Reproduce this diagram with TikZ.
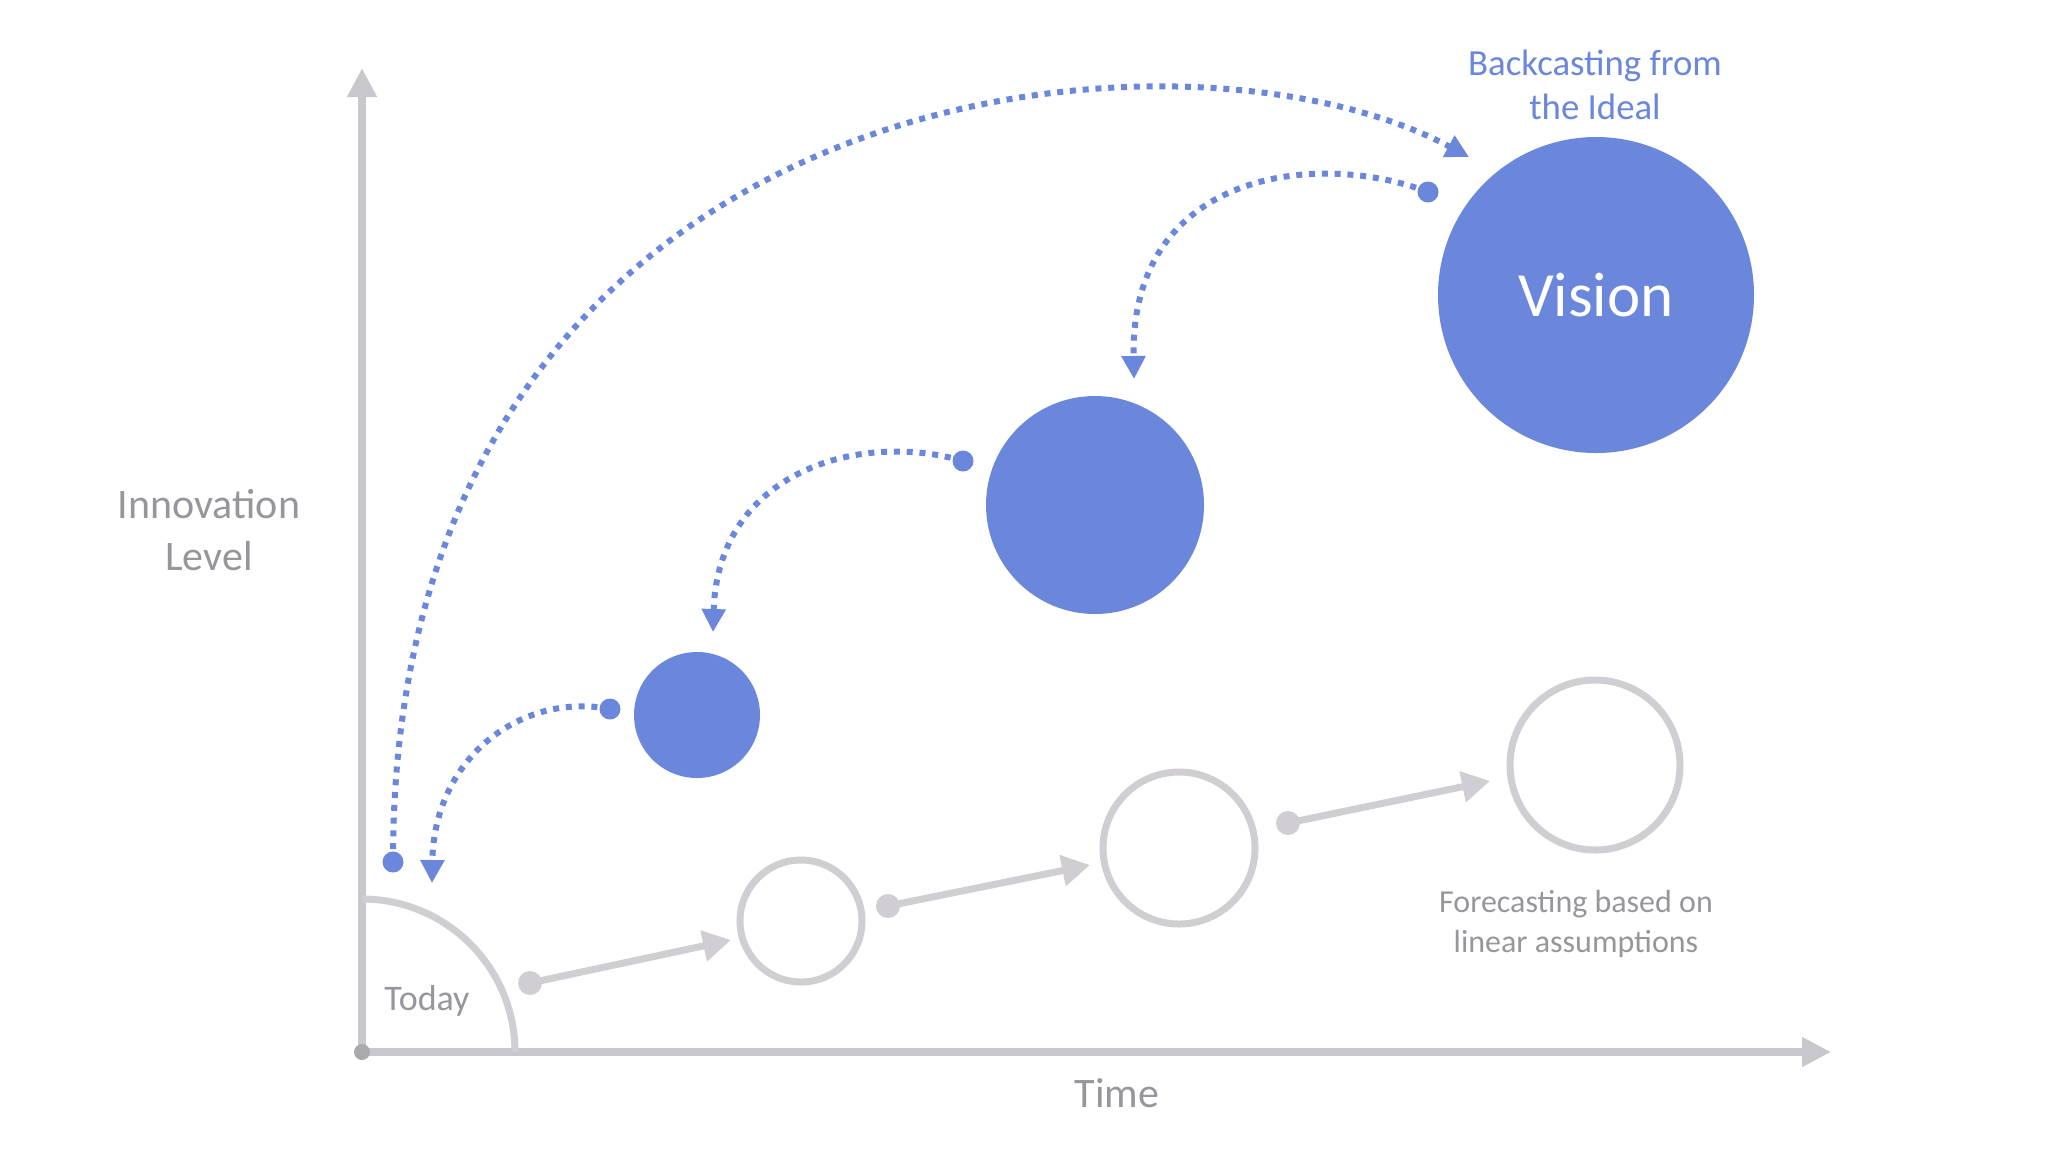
\documentclass[tikz,border=0pt]{standalone}
\usepackage{fontspec}
\setmainfont{Carlito}
\usetikzlibrary{arrows.meta}
\definecolor{vblue}{RGB}{106,135,219}
\definecolor{lgrey}{RGB}{208,206,211}
\definecolor{axgrey}{RGB}{200,200,204}
\definecolor{tgrey}{RGB}{150,150,156}
\definecolor{dgrey}{RGB}{170,170,174}
\begin{document}
\begin{tikzpicture}[x=0.5pt,y=-0.5pt,
  bluecirc/.style={circle,fill=vblue,inner sep=0pt},
  ring/.style={circle,draw=lgrey,line width=3.5pt,inner sep=0pt},
  axisline/.style={draw=axgrey,line width=4pt,-{Triangle[length=14.5pt,width=14pt]}},
  greyarrow/.style={draw=lgrey,line width=3.5pt,-{Triangle[length=14pt,width=15pt]}},
  greydot/.style={fill=lgrey},
  blueback/.style={draw=vblue,line width=3pt,line cap=butt,dash pattern=on 3pt off 3.4pt,-{Triangle[length=11.5pt,width=11.5pt]}},
  bluedot/.style={fill=vblue},
  lbl/.style={text=tgrey,align=center,inner sep=0pt}
]
\useasboundingbox[fill=white] (0,0) rectangle (2048,1152);

% axes
\coordinate (origin) at (362,1052);
\coordinate (ytip) at (362,68);
\coordinate (xstart) at (357,1052);
\coordinate (xtip) at (1831,1052);
\draw[axisline] (origin) -- (ytip);
\draw[axisline] (xstart) -- (xtip);

% today arc
\draw[draw=lgrey,line width=3.5pt] (362,899) arc[start angle=-90,end angle=0,radius=153];
\fill[dgrey] (origin) circle[radius=8];

% blue circles
\node[bluecirc,minimum size=158pt,text=white,font=\fontsize{31.5}{38}\selectfont] (vision) at (1596,295) {Vision};
\node[bluecirc,minimum size=109pt] (mid) at (1095,505) {};
\node[bluecirc,minimum size=63pt] (small) at (697,715) {};

% grey rings
\node[ring,minimum size=61pt] (g1) at (801,921) {};
\node[ring,minimum size=76pt] (g2) at (1179,848) {};
\node[ring,minimum size=85pt] (g3) at (1595,765) {};

% grey forecast arrows
\coordinate (f1s) at (530,983);
\coordinate (f1e) at (731,940);
\coordinate (f2s) at (888,906);
\coordinate (f2e) at (1090,865);
\coordinate (f3s) at (1288,823);
\coordinate (f3e) at (1490,781);
\draw[greyarrow] (f1s) -- (f1e);
\draw[greyarrow] (f2s) -- (f2e);
\draw[greyarrow] (f3s) -- (f3e);
\fill[greydot] (f1s) circle[radius=12];
\fill[greydot] (f2s) circle[radius=12];
\fill[greydot] (f3s) circle[radius=12];

% blue backcasting curves
\coordinate (b1s) at (393,862);
\coordinate (b1e) at (1469,157);
\coordinate (b2s) at (1428,192);
\coordinate (b2e) at (1134,379);
\coordinate (b3s) at (963,461);
\coordinate (b3e) at (713,632);
\coordinate (b4s) at (610,709);
\coordinate (b4e) at (432,883);
\draw[blueback] (b1s) .. controls (392,78) and (1175,0) .. (b1e);
\draw[blueback] (b2s) .. controls (1319,150) and (1130,170) .. (b2e);
\draw[blueback] (b3s) .. controls (862,431) and (718,470) .. (b3e);
\draw[blueback] (b4s) .. controls (522,692) and (434,757) .. (b4e);
\fill[bluedot] (b1s) circle[radius=10.5];
\fill[bluedot] (b2s) circle[radius=10.5];
\fill[bluedot] (b3s) circle[radius=10.5];
\fill[bluedot] (b4s) circle[radius=10.5];

% labels
\node[lbl,font=\fontsize{21}{26}\selectfont] (ylabel) at (209,530) {Innovation\\Level};
\node[lbl,font=\fontsize{21}{26}\selectfont] (xlabel) at (1117,1093) {Time};
\node[lbl,font=\fontsize{18}{22}\selectfont] (today) at (427,1001) {Today};
\node[lbl,text=vblue,font=\fontsize{18.4}{22}\selectfont] (back) at (1595,85) {Backcasting from\\the Ideal};
\node[lbl,font=\fontsize{16}{19.6}\selectfont] (fore) at (1576,924) {Forecasting based on\\linear assumptions};
\end{tikzpicture}
\end{document}
